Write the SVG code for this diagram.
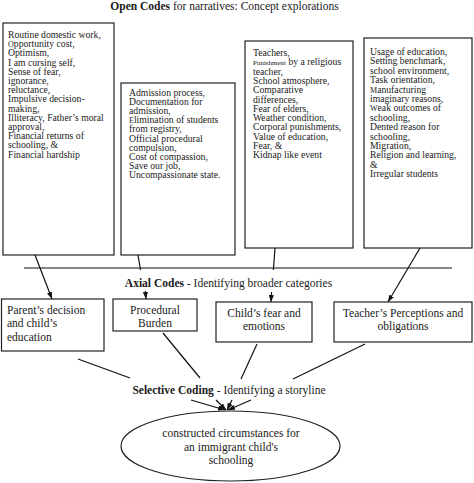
<svg xmlns="http://www.w3.org/2000/svg" width="474" height="483" viewBox="0 0 474 483">
<style>
text{font-family:"Liberation Serif","Times New Roman",serif;fill:#1a1a1a}
.h{font-size:11.5px}
.b{font-weight:bold}
.s{font-size:9.7px}
.sm{font-size:7px}
.m{font-size:11.5px}
.box{fill:#fff;stroke:#222;stroke-width:1.2}
.ln{stroke:#111;stroke-width:1.2;fill:none}
</style>
<defs>
<marker id="ah" viewBox="0 0 8 6" refX="8" refY="3" markerWidth="7" markerHeight="5.5" markerUnits="userSpaceOnUse" orient="auto">
<path d="M0,0 L8,3 L0,6 z" fill="#111"/>
</marker>
</defs>
<rect width="474" height="483" fill="#fff"/>

<text class="h" x="224.5" y="9.5" text-anchor="middle"><tspan class="b">Open Codes</tspan> for narratives: Concept explorations</text>

<g id="open1">
<rect class="box" x="3" y="23" width="111" height="232"/>
<text class="s" x="8" y="38"><tspan x="8">Routine domestic work,</tspan><tspan x="8" dy="9.2"><tspan font-size="8px">O</tspan>pportunity cost,</tspan><tspan x="8" dy="9.2">Optimism,</tspan><tspan x="8" dy="9.2">I am cursing self,</tspan><tspan x="8" dy="9.2">Sense of fear,</tspan><tspan x="8" dy="9.2">ignorance,</tspan><tspan x="8" dy="9.2">reluctance,</tspan><tspan x="8" dy="9.2">Impulsive decision-</tspan><tspan x="8" dy="9.2">making,</tspan><tspan x="8" dy="9.2">Illiteracy, Father’s moral</tspan><tspan x="8" dy="9.2">approval,</tspan><tspan x="8" dy="9.2">Financial returns of</tspan><tspan x="8" dy="9.2">schooling, &amp;</tspan><tspan x="8" dy="9.2">Financial hardship</tspan></text>
</g>

<g id="open2">
<rect class="box" x="121" y="83" width="114" height="172"/>
<text class="s" x="129" y="96"><tspan x="129">Admission process,</tspan><tspan x="129" dy="9.1">Documentation for</tspan><tspan x="129" dy="9.1">admission,</tspan><tspan x="129" dy="9.1"><tspan font-size="8px">E</tspan>limination of students</tspan><tspan x="129" dy="9.1">from registry,</tspan><tspan x="129" dy="9.1">Official procedural</tspan><tspan x="129" dy="9.1">compulsion,</tspan><tspan x="129" dy="9.1">Cost of compassion,</tspan><tspan x="129" dy="9.1">Save our job,</tspan><tspan x="129" dy="9.1">Uncompassionate state.</tspan></text>
</g>

<g id="open3">
<rect class="box" x="245" y="41" width="108" height="207"/>
<text class="s" x="253" y="56"><tspan x="253">Teachers,</tspan><tspan x="253" dy="9.3"><tspan class="sm">Punishment</tspan> by a religious</tspan><tspan x="253" dy="9.3">teacher,</tspan><tspan x="253" dy="9.3">School atmosphere,</tspan><tspan x="253" dy="9.3">Comparative</tspan><tspan x="253" dy="9.3">differences,</tspan><tspan x="253" dy="9.3">Fear of elders,</tspan><tspan x="253" dy="9.3">Weather condition,</tspan><tspan x="253" dy="9.3">Corporal punishments,</tspan><tspan x="253" dy="9.3">Value of education,</tspan><tspan x="253" dy="9.3">Fear, &amp;</tspan><tspan x="253" dy="9.3">Kidnap like event</tspan></text>
</g>

<g id="open4">
<rect class="box" x="364" y="38" width="108" height="210"/>
<text class="s" x="370" y="55"><tspan x="370">Usage of education,</tspan><tspan x="370" dy="9.4">Setting benchmark,</tspan><tspan x="370" dy="9.4">school environment,</tspan><tspan x="370" dy="9.4">Task orientation,</tspan><tspan x="370" dy="9.4"><tspan font-size="8px">M</tspan>anufacturing</tspan><tspan x="370" dy="9.4">imaginary reasons,</tspan><tspan x="370" dy="9.4"><tspan font-size="8px">W</tspan>eak outcomes of</tspan><tspan x="370" dy="9.4">schooling,</tspan><tspan x="370" dy="9.4">Dented reason for</tspan><tspan x="370" dy="9.4">schooling,</tspan><tspan x="370" dy="9.4">Migration,</tspan><tspan x="370" dy="9.4">Religion and learning,</tspan><tspan x="370" dy="9.4">&amp;</tspan><tspan x="370" dy="9.4">Irregular students</tspan></text>
</g>

<g id="connectors">
<line class="ln" x1="24" y1="268" x2="452" y2="268"/>
<line class="ln" x1="35" y1="255" x2="52" y2="299" marker-end="url(#ah)"/>
<line class="ln" x1="138" y1="255" x2="140.5" y2="270"/>
<line class="ln" x1="145.3" y1="291" x2="146" y2="299" marker-end="url(#ah)"/>
<line class="ln" x1="275" y1="248" x2="273.4" y2="270"/>
<line class="ln" x1="271.5" y1="292" x2="271" y2="302" marker-end="url(#ah)"/>
<line class="ln" x1="420" y1="248" x2="388" y2="302" marker-end="url(#ah)"/>
<line class="ln" x1="78" y1="359" x2="130" y2="378"/>
<line class="ln" x1="163" y1="333" x2="200" y2="378"/>
<line class="ln" x1="257" y1="344" x2="241" y2="379"/>
<line class="ln" x1="365" y1="344" x2="293" y2="379"/>
<line class="ln" x1="191" y1="400" x2="225" y2="410" marker-end="url(#ah)"/>
<line class="ln" x1="216" y1="400" x2="226" y2="410" marker-end="url(#ah)"/>
<line class="ln" x1="232" y1="400" x2="227" y2="410" marker-end="url(#ah)"/>
<line class="ln" x1="251" y1="400" x2="228" y2="410" marker-end="url(#ah)"/>
</g>

<text class="h" x="228.5" y="287" text-anchor="middle"><tspan class="b">Axial Codes</tspan> - Identifying broader categories</text>

<g id="axial1">
<rect class="box" x="1.5" y="299" width="102.5" height="52"/>
<text class="m" x="7" y="314"><tspan x="7">Parent’s decision</tspan><tspan x="7" dy="13.3">and child’s</tspan><tspan x="7" dy="13.3">education</tspan></text>
</g>

<g id="axial2">
<rect class="box" x="113" y="299" width="84" height="32"/>
<text class="m" x="155" y="314" text-anchor="middle"><tspan x="155">Procedural</tspan><tspan x="155" dy="12.5">Burden</tspan></text>
</g>

<g id="axial3">
<rect class="box" x="216" y="302" width="96" height="40"/>
<text class="m" x="264" y="317" text-anchor="middle"><tspan x="264">Child’s fear and</tspan><tspan x="264" dy="13">emotions</tspan></text>
</g>

<g id="axial4">
<rect class="box" x="334" y="302" width="138" height="40"/>
<text class="m" x="403" y="317" text-anchor="middle"><tspan x="403">Teacher’s Perceptions and</tspan><tspan x="403" dy="13">obligations</tspan></text>
</g>

<text class="h" x="229" y="394" text-anchor="middle"><tspan class="b">Selective Coding</tspan> - Identifying a storyline</text>

<g id="core">
<ellipse cx="230.5" cy="446" rx="109.5" ry="35" fill="#fff" stroke="#222" stroke-width="1.2"/>
<text class="m" x="231" y="437" text-anchor="middle"><tspan x="231">constructed circumstances for</tspan><tspan x="231" dy="13.5">an immigrant child's</tspan><tspan x="231" dy="13.5">schooling</tspan></text>
</g>
</svg>
